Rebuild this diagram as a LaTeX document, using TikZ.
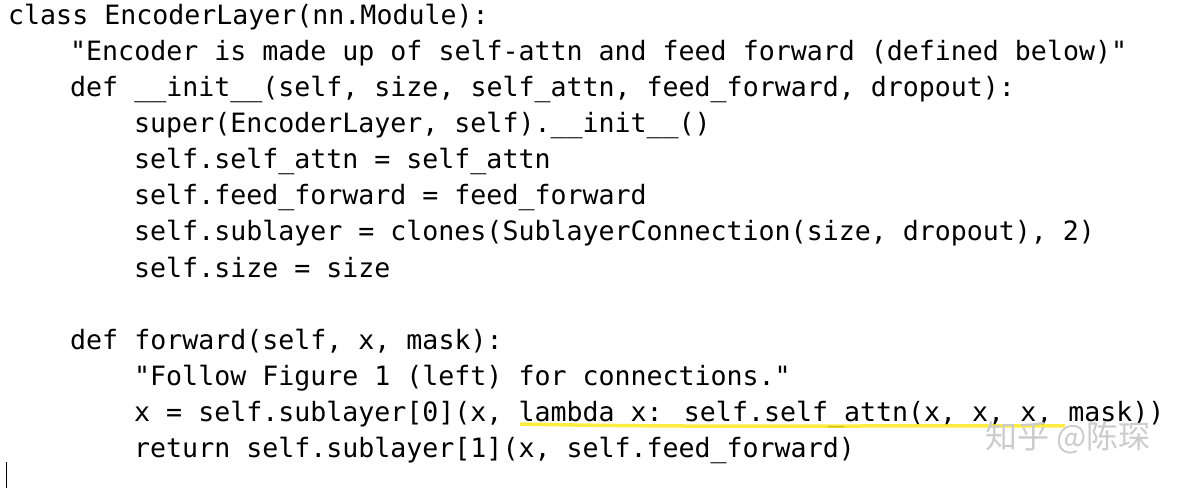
\documentclass[tikz,border=0pt]{standalone}
\usepackage{fontspec}
\newfontfamily\codefont{DejaVu Sans Mono}
\newfontfamily\cjk{Noto Sans CJK SC}
\begin{document}
\begin{tikzpicture}[x=1pt,y=1pt,
  code/.style={anchor=base west,inner sep=0pt,font=\codefont\fontsize{26.6}{30}\selectfont},
  wm/.style={inner sep=0pt,text=black!20,font=\cjk\fontsize{32}{34}\selectfont}]
\useasboundingbox[fill=white] (0,0) rectangle (1184,488);
\def\L#1#2#3#4{\node[code] (#1) at (#2,{488-25-36*#3}) {#4};}
\L{l0}{8}{0}{class EncoderLayer(nn.Module):}
\L{l1}{70}{1}{"Encoder is made up of self-attn and feed forward (defined below)"}
\L{l2}{70}{2}{def \_\_init\_\_(self, size, self\_attn, feed\_forward, dropout):}
\L{l3}{134}{3}{super(EncoderLayer, self).\_\_init\_\_()}
\L{l4}{134}{4}{self.self\_attn = self\_attn}
\L{l5}{134}{5}{self.feed\_forward = feed\_forward}
\L{l6}{134}{6}{self.sublayer = clones(SublayerConnection(size, dropout), 2)}
\L{l7}{134}{7}{self.size = size}
\L{l9}{70}{9}{def forward(self, x, mask):}
\L{l10}{134}{10}{"Follow Figure 1 (left) for connections."}
\L{l11}{134}{11}{x = self.sublayer[0](x, lambda x: self.self\_attn(x, x, x, mask))}
\L{l12}{134}{12}{return self.sublayer[1](x, self.feed\_forward)}
\draw[yellow!90!orange,line width=3.5pt,opacity=0.75] (520,64) .. controls (700,60) and (900,63) .. (1065,62);
\node[wm] (wm) at (1068,50) {知乎 @陈琛};
\draw[black,line width=1pt] (6,0) -- (6,26);
\end{tikzpicture}
\end{document}
